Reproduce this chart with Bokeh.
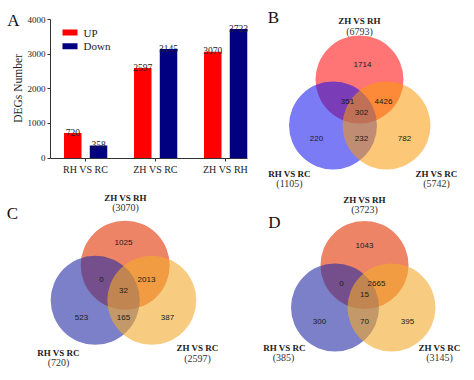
import numpy as np
from bokeh.plotting import figure
from bokeh.models import Range1d, FixedTicker
from bokeh.layouts import column, row
from bokeh.core.properties import value
from bokeh.embed import file_html
from bokeh.resources import INLINE

# ---------------- data ----------------
categories = ["RH VS RC", "ZH VS RC", "ZH VS RH"]
up_counts = [720, 2597, 3070]
down_counts = [358, 3145, 3723]
y_ticks = [0, 1000, 2000, 3000, 4000]
series_names = ["UP", "Down"]
series_colors = ["#FF0000", "#000080"]

set_names = ["ZH VS RH", "RH VS RC", "ZH VS RC"]
# region order: top only, top&left, top&right, all three, left only, left&right, right only
b_totals = [6793, 1105, 5742]
b_regions = [1714, 351, 4426, 302, 220, 232, 782]
c_totals = [3070, 720, 2597]
c_regions = [1025, 0, 2013, 32, 523, 165, 387]
d_totals = [3723, 385, 3145]
d_regions = [1043, 0, 2665, 15, 300, 70, 395]

SERIF = "Liberation Serif"
SANS = "Liberation Sans"

# ---------------- panel A: bar chart (frame fills the whole panel) ----------------
AX_X, AX_Y = 50.0, 157.5          # pixel position of the axes origin
PX_PER_CAT = 70.0
PX_PER_UNIT_Y = 138.5 / 4000.0
W_A, H_A = 250, 190


def px2x(px):
    return (px - AX_X) / PX_PER_CAT


def py2y(py):
    return (AX_Y - py) / PX_PER_UNIT_Y


pA = figure(width=W_A, height=H_A, x_range=Range1d(px2x(0), px2x(W_A)),
            y_range=Range1d(py2y(H_A), py2y(0)),
            output_backend="svg", toolbar_location=None, min_border=0)
pA.outline_line_color = None
pA.grid.visible = False

xc = np.arange(len(categories)) + 0.5
bw = 0.25
x_up = xc - 0.182
x_dn = xc + 0.186
pA.vbar(x=x_up, top=up_counts, width=bw, fill_color=series_colors[0], line_color=None)
pA.vbar(x=x_dn, top=down_counts, width=bw, fill_color=series_colors[1], line_color=None)
pA.text(x=x_up, y=up_counts, text=[str(v) for v in up_counts], text_align="center",
        text_baseline="alphabetic", y_offset=-1, text_font=value(SERIF),
        text_font_size="9.5px", text_color="#222222")
pA.text(x=x_dn, y=down_counts, text=[str(v) for v in down_counts], text_align="center",
        text_baseline="alphabetic", y_offset=-1, text_font=value(SERIF),
        text_font_size="9.5px", text_color="#222222")

xa = pA.xaxis[0]
xa.fixed_location = 0
xa.bounds = (0, px2x(247))
xa.ticker = FixedTicker(ticks=list(xc))
xa.major_label_overrides = {float(x): c for x, c in zip(xc, categories)}
xa.minor_tick_line_color = None
xa.major_tick_in = 0
xa.major_tick_out = 3
xa.major_label_standoff = 3
xa.major_label_text_font = SERIF
xa.major_label_text_font_size = "10px"
xa.major_label_text_color = "#222222"
xa.axis_line_color = "#333333"
xa.major_tick_line_color = "#333333"

ya = pA.yaxis[0]
ya.fixed_location = 0
ya.bounds = (0, 4000)
ya.ticker = FixedTicker(ticks=y_ticks)
ya.minor_tick_line_color = None
ya.major_tick_in = 0
ya.major_tick_out = 3
ya.major_label_standoff = 2
ya.major_label_text_font = SERIF
ya.major_label_text_font_size = "9px"
ya.major_label_text_color = "#222222"
ya.axis_line_color = "#333333"
ya.major_tick_line_color = "#333333"

# panel letter and y-axis title
pA.text(x=[px2x(13)], y=[py2y(20)], text=["A"], text_align="center", text_baseline="middle",
        text_font=value(SERIF), text_font_size="17px", text_color="#111111")
pA.text(x=[px2x(17)], y=[py2y(88)], text=["DEGs Number"], angle=np.pi / 2,
        text_align="center", text_baseline="middle", text_font=value(SERIF),
        text_font_size="11.5px", text_color="#222222")

# legend (swatches + labels) placed in pixel layout positions
leg_rows_py = [32.0, 45.7]
pA.quad(left=[px2x(62)] * 2, right=[px2x(77)] * 2,
        bottom=[py2y(c + 3) for c in leg_rows_py], top=[py2y(c - 3) for c in leg_rows_py],
        fill_color=series_colors, line_color=None)
pA.text(x=[px2x(83)] * 2, y=[py2y(c) for c in leg_rows_py], text=series_names,
        text_align="left", text_baseline="middle", text_font=value(SERIF),
        text_font_size="11px", text_color="#222222")


# ---------------- Venn panels ----------------
def venn(x0, x1, y0, y1, centers, r, colors, alpha, totals, regions,
         region_pos, name_pos, total_pos, letter, letter_pos):
    p = figure(width=x1 - x0, height=y1 - y0, x_range=Range1d(x0, x1),
               y_range=Range1d(y1, y0), output_backend="svg", toolbar_location=None,
               min_border=0, x_axis_type=None, y_axis_type=None)
    p.outline_line_color = None
    p.grid.visible = False
    for (cx, cy), col in zip(centers, colors):
        p.circle(x=[cx], y=[cy], radius=r, fill_color=col, fill_alpha=alpha, line_color=None)
    p.text(x=[q[0] for q in region_pos], y=[q[1] for q in region_pos],
           text=[str(v) for v in regions], text_align="center", text_baseline="middle",
           text_font=value(SANS), text_font_size="8px", text_color="#1a1a1a")
    p.text(x=[q[0] for q in name_pos], y=[q[1] for q in name_pos], text=set_names,
           text_align="center", text_baseline="middle", text_font=value(SERIF),
           text_font_style="bold", text_font_size="9px", text_color="#1a1a1a")
    p.text(x=[q[0] for q in total_pos], y=[q[1] for q in total_pos],
           text=["(%d)" % v for v in totals], text_align="center", text_baseline="middle",
           text_font=value(SERIF), text_font_size="10px", text_color="#333333")
    p.text(x=[letter_pos[0]], y=[letter_pos[1]], text=[letter], text_align="center",
           text_baseline="middle", text_font=value(SERIF), text_font_size="17px",
           text_color="#111111")
    return p


pB = venn(250, 466, 0, 190,
          centers=[(359, 79), (332.5, 125), (386, 125)], r=44,
          colors=["#FF0404", "#0F0FED", "#FA9B08"], alpha=0.55,
          totals=b_totals, regions=b_regions,
          region_pos=[(362, 64), (347, 101), (383, 101), (361, 112), (316, 138), (361, 138), (404, 138)],
          name_pos=[(359, 20), (289, 173), (436, 173)],
          total_pos=[(359, 31), (289, 183), (436, 183)],
          letter="B", letter_pos=(273, 17))

pC = venn(0, 229, 190, 372,
          centers=[(124.7, 264.7), (94.7, 299.8), (151.3, 299.8)], r=44.5,
          colors=["#E33200", "#232BA3", "#F3AA2B"], alpha=0.6,
          totals=c_totals, regions=c_regions,
          region_pos=[(123, 242), (101, 279), (146, 279), (123, 290), (81, 317), (123, 317), (167, 317)],
          name_pos=[(125, 197), (58, 352), (197, 347)],
          total_pos=[(125, 207), (58, 362), (197, 358)],
          letter="C", letter_pos=(12, 213))

pD = venn(229, 466, 190, 372,
          centers=[(364, 264.5), (334.5, 307), (391, 307)], r=44,
          colors=["#E33200", "#232BA3", "#F3AA2B"], alpha=0.6,
          totals=d_totals, regions=d_regions,
          region_pos=[(364, 245), (341, 283), (376, 283), (364, 294), (319, 321), (364, 321), (407, 321)],
          name_pos=[(364, 199), (284, 347), (439, 347)],
          total_pos=[(364, 209), (283, 357), (439, 357)],
          letter="D", letter_pos=(274, 222))

layout = column(row(pA, pB), row(pC, pD))
open("out.html", "w").write(file_html(layout, INLINE))
